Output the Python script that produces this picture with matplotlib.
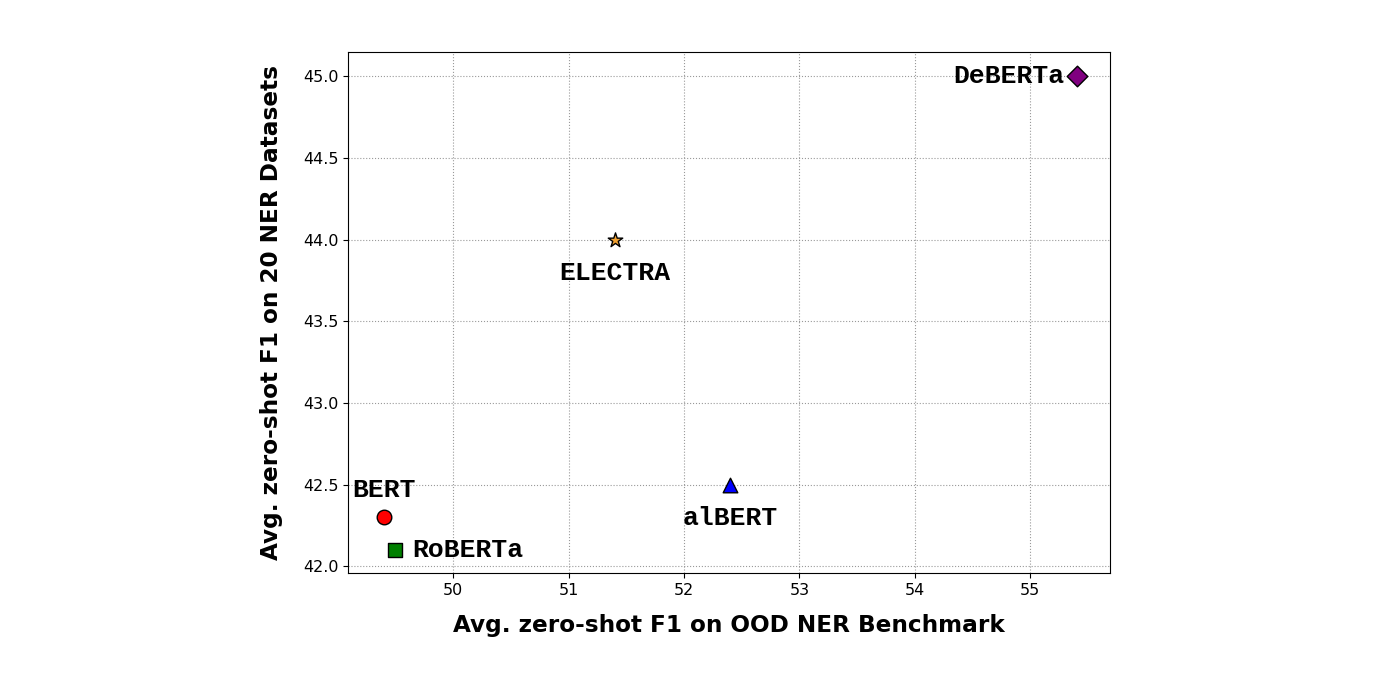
import matplotlib
matplotlib.use("Agg")
import matplotlib.pyplot as plt

models = ["BERT", "RoBERTa", "ELECTRA", "alBERT", "DeBERTa"]
ood_f1 = [49.4, 49.5, 51.4, 52.4, 55.4]
ner20_f1 = [42.3, 42.1, 44.0, 42.5, 45.0]
colors = ["red", "green", "#f0a030", "blue", "purple"]
markers = ["o", "s", "*", "^", "D"]
sizes = [110, 110, 120, 110, 110]

# label offsets in points (dx, dy) and alignment
offsets = [(0, 20, "center"), (12, 0, "left"), (0, -24, "center"), (0, -24, "center"), (-9, 0, "right")]

fig = plt.figure(figsize=(13.98, 6.74), dpi=100)
ax = fig.add_axes([348/1398, 1 - 573/674, (1110-348)/1398, (573-52)/674])

for x, y, c, m, s, name, (dx, dy, ha) in zip(ood_f1, ner20_f1, colors, markers, sizes, models, offsets):
    ax.scatter(x, y, c=c, marker=m, s=s, edgecolors="black", linewidths=1, zorder=3)
    ax.annotate(name, (x, y), xytext=(dx, dy), textcoords="offset points",
                ha=ha, va="center", fontsize=19, fontweight="bold",
                family="Liberation Mono", zorder=4)

ax.set_xlim(49.09, 55.69)
ax.set_ylim(41.96, 45.15)
ax.set_xticks([50, 51, 52, 53, 54, 55])
ax.set_yticks([42.0, 42.5, 43.0, 43.5, 44.0, 44.5, 45.0])
ax.set_yticklabels(["42.0", "42.5", "43.0", "43.5", "44.0", "44.5", "45.0"])
ax.tick_params(labelsize=11.5)
ax.grid(True, linestyle=":", color="gray", linewidth=0.8, alpha=0.8)
ax.set_axisbelow(True)
ax.set_xlabel("Avg. zero-shot F1 on OOD NER Benchmark", fontsize=16.7, fontweight="bold", labelpad=12)
ax.set_ylabel("Avg. zero-shot F1 on 20 NER Datasets", fontsize=16.7, fontweight="bold", labelpad=14)

fig.savefig("out.png", dpi=100)
